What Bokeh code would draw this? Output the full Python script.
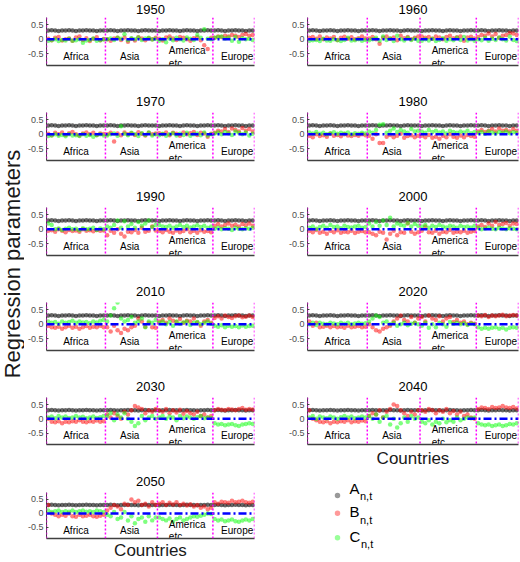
import numpy as np
from bokeh.plotting import figure
from bokeh.models import Span, FixedTicker
from bokeh.layouts import row, column
from bokeh.core.properties import value
from bokeh.embed import file_html
from bokeh.resources import INLINE

FONT = "Liberation Sans"

years = [1950, 1960, 1970, 1980, 1990, 2000, 2010, 2020, 2030, 2040, 2050]
region_names = ["Africa", "Asia", "America etc.", "Europe"]
region_sizes = [17, 15, 16, 12]
y_ticks = [-0.5, 0, 0.5]
series_labels = ["A", "B", "C"]

A_values = [0.30, 0.31, 0.30, 0.29, 0.30, 0.30, 0.31, 0.30, 0.29, 0.30, 0.30, 0.31, 0.30, 0.30, 0.29, 0.30, 0.30,
            0.30, 0.31, 0.30, 0.29, 0.30, 0.30, 0.31, 0.30, 0.30, 0.29, 0.30, 0.31, 0.30, 0.30, 0.30,
            0.29, 0.30, 0.30, 0.31, 0.30, 0.30, 0.29, 0.30, 0.31, 0.30, 0.30, 0.29, 0.30, 0.30, 0.31, 0.30,
            0.30, 0.31, 0.30, 0.29, 0.30, 0.30, 0.31, 0.30, 0.30, 0.29, 0.30, 0.30]

B_1950 = [0.02, -0.03, 0.05, 0.08, -0.04, 0.0, 0.03, -0.05, 0.06, 0.10, -0.02, 0.04, -0.06, 0.02, 0.07, -0.03, 0.01,
          0.0, -0.05, 0.03, 0.05, -0.02, 0.06, -0.08, 0.02, -0.04, 0.07, 0.03, -0.03, 0.04, 0.0, 0.05,
          0.02, -0.04, 0.06, 0.10, 0.03, -0.02, 0.08, 0.05, 0.0, -0.05, 0.04, 0.07, -0.03, -0.20, -0.33, 0.05,
          0.05, 0.10, 0.08, 0.12, 0.10, 0.15, 0.12, 0.08, 0.15, 0.18, 0.12, 0.15]
C_1950 = [-0.05, -0.03, 0.0, -0.06, -0.02, -0.04, 0.02, -0.05, -0.03, 0.0, -0.12, -0.04, -0.02, 0.03, -0.05, -0.03, -0.01,
          0.0, 0.03, -0.02, 0.05, 0.02, 0.17, -0.03, 0.04, 0.0, 0.06, -0.02, 0.03, 0.05, -0.01, 0.02,
          -0.05, 0.0, -0.10, 0.03, -0.03, 0.05, 0.0, -0.04, 0.06, 0.02, -0.02, 0.15, 0.05, 0.35, 0.02, 0.0,
          0.05, 0.08, 0.10, 0.03, 0.06, -0.05, 0.08, -0.08, 0.04, 0.0, 0.02, -0.02]

B_1960 = [0.05, 0.08, 0.02, 0.10, 0.0, 0.06, 0.03, 0.08, -0.02, 0.05, 0.09, 0.02, 0.07, 0.0, 0.04, 0.10, 0.03,
          0.03, 0.08, 0.0, -0.15, 0.05, 0.10, 0.02, 0.06, -0.03, 0.12, 0.04, 0.08, 0.0, 0.05, 0.10,
          0.10, 0.05, 0.08, 0.02, 0.10, 0.06, 0.0, 0.08, 0.12, 0.04, 0.07, 0.10, -0.05, 0.06, 0.09, 0.03,
          0.08, 0.15, 0.12, 0.20, 0.10, 0.18, 0.05, 0.12, 0.15, 0.22, 0.20, 0.15]
C_1960 = [-0.05, -0.03, -0.02, -0.06, 0.02, -0.04, -0.05, 0.0, -0.03, -0.06, -0.02, 0.05, -0.04, -0.03, 0.0, -0.05, -0.02,
          -0.03, 0.0, 0.05, -0.05, 0.10, -0.02, 0.03, -0.06, 0.12, 0.0, -0.04, 0.05, -0.02, 0.02, -0.05,
          -0.05, 0.0, -0.04, 0.02, -0.06, -0.02, 0.04, -0.05, 0.0, -0.03, 0.05, -0.02, 0.08, -0.04, 0.0, -0.05,
          0.0, -0.03, 0.05, -0.05, 0.02, -0.02, 0.06, 0.0, -0.04, 0.10, -0.02, -0.06]

B_1970 = [0.02, -0.03, 0.05, 0.0, 0.06, -0.02, 0.04, 0.08, 0.0, -0.04, 0.03, 0.06, 0.0, 0.05, -0.02, 0.03, 0.01,
          0.0, 0.05, -0.25, 0.03, -0.03, 0.06, 0.0, 0.04, -0.02, 0.07, 0.02, -0.04, 0.05, 0.0, 0.03,
          0.04, 0.0, 0.06, -0.03, 0.05, 0.02, -0.05, 0.06, 0.0, 0.04, 0.08, -0.02, 0.05, 0.03, -0.08, 0.02,
          0.05, 0.12, 0.10, 0.18, 0.08, 0.20, 0.15, 0.10, 0.22, 0.12, 0.18, 0.10]
C_1970 = [-0.06, -0.04, 0.0, -0.05, -0.02, -0.07, 0.0, -0.04, -0.03, -0.06, 0.0, -0.05, -0.02, -0.08, -0.03, 0.0, -0.04,
          -0.04, 0.0, 0.03, -0.05, 0.28, 0.02, -0.03, 0.05, 0.0, -0.06, 0.04, -0.02, 0.06, -0.04, 0.0,
          -0.03, 0.02, -0.05, 0.0, 0.04, -0.04, 0.02, -0.02, 0.05, -0.05, 0.0, 0.03, -0.03, 0.06, -0.04, 0.0,
          0.03, 0.06, 0.0, 0.08, 0.04, -0.02, 0.10, 0.05, 0.0, 0.06, -0.04, 0.02]

B_1980 = [-0.05, -0.10, 0.0, -0.06, -0.03, -0.08, 0.02, -0.05, -0.02, -0.07, 0.0, -0.04, -0.06, -0.02, -0.05, 0.0, -0.03,
          -0.05, -0.15, 0.0, -0.30, -0.30, -0.08, -0.02, -0.10, -0.05, 0.02, -0.12, -0.06, -0.03, -0.10, -0.05,
          -0.05, -0.10, -0.02, -0.12, -0.08, -0.15, -0.05, -0.10, 0.0, -0.08, -0.12, -0.04, -0.10, -0.02, -0.06, -0.08,
          0.10, 0.15, 0.08, 0.12, 0.18, 0.10, 0.20, 0.12, 0.15, 0.10, 0.18, 0.12]
C_1980 = [0.06, 0.03, 0.08, 0.02, 0.05, 0.0, 0.04, 0.07, 0.02, 0.05, 0.03, 0.06, 0.0, 0.04, 0.02, 0.05, 0.03,
          0.10, 0.05, 0.15, 0.33, 0.35, 0.05, 0.12, 0.20, 0.08, 0.15, 0.10, 0.05, 0.18, 0.10, 0.12,
          0.10, 0.05, 0.15, 0.08, 0.12, 0.06, 0.10, 0.03, 0.12, 0.08, 0.05, 0.10, 0.06, 0.12, 0.04, 0.08,
          0.05, 0.08, 0.02, 0.10, 0.06, 0.03, 0.08, 0.05, 0.10, 0.04, 0.07, 0.05]

B_1990 = [-0.05, -0.03, -0.08, 0.0, -0.05, -0.10, -0.02, -0.06, -0.04, -0.08, 0.0, -0.05, -0.03, -0.07, -0.02, -0.05, -0.04,
          -0.20, -0.05, -0.12, 0.0, -0.15, -0.25, -0.08, -0.10, -0.02, -0.12, 0.05, -0.08, -0.05, 0.10, -0.04,
          -0.05, -0.10, -0.02, -0.08, -0.12, -0.04, -0.10, -0.06, 0.0, -0.10, -0.05, -0.12, -0.03, -0.08, -0.06, -0.10,
          0.12, 0.18, 0.10, 0.15, 0.20, 0.12, 0.16, 0.10, 0.18, 0.14, 0.20, 0.12]
C_1990 = [0.20, 0.15, 0.0, 0.03, -0.02, 0.02, 0.05, 0.0, 0.02, -0.03, 0.04, 0.0, 0.02, 0.05, -0.02, 0.03, 0.0,
          0.10, 0.05, 0.15, 0.30, 0.05, 0.28, 0.10, 0.18, 0.05, 0.25, 0.12, 0.20, 0.30, 0.08, 0.15,
          0.15, 0.10, 0.08, 0.12, 0.05, 0.10, 0.15, 0.08, 0.12, 0.06, 0.10, 0.14, 0.08, 0.12, 0.05, 0.10,
          0.02, 0.05, 0.0, 0.04, 0.02, -0.02, 0.05, 0.02, 0.0, 0.04, 0.02, 0.05]

B_2000 = [-0.05, -0.10, -0.02, -0.12, -0.08, -0.15, -0.05, -0.10, -0.03, -0.12, -0.08, -0.10, -0.05, -0.13, -0.08, -0.06, -0.10,
          -0.10, -0.15, -0.20, -0.08, -0.12, -0.35, -0.15, -0.05, -0.20, -0.10, -0.12, 0.20, -0.08, -0.15, -0.10,
          -0.05, 0.10, -0.10, -0.12, -0.05, -0.15, -0.08, -0.10, -0.02, -0.12, -0.08, -0.10, -0.05, -0.12, -0.08, -0.06,
          0.10, 0.15, 0.08, 0.20, 0.12, 0.25, 0.15, 0.18, 0.22, 0.12, 0.20, 0.18]
C_2000 = [0.05, 0.10, 0.02, 0.08, 0.12, 0.05, 0.15, 0.08, 0.10, 0.04, 0.12, 0.08, 0.06, 0.10, 0.12, 0.05, 0.08,
          0.20, 0.10, 0.25, 0.12, 0.30, 0.15, 0.40, 0.10, 0.20, 0.15, 0.12, 0.22, 0.10, 0.18, 0.12,
          0.10, 0.15, 0.05, 0.12, 0.08, 0.15, 0.10, 0.06, 0.12, 0.10, 0.05, 0.12, 0.08, 0.10, 0.06, 0.12,
          0.05, 0.0, 0.03, 0.06, 0.02, 0.0, 0.05, 0.03, 0.0, 0.04, 0.02, 0.0]

B_2010 = [-0.05, -0.10, -0.12, -0.08, -0.15, -0.10, -0.05, -0.12, -0.08, -0.15, -0.10, -0.06, -0.12, -0.08, -0.10, -0.05, -0.10,
          -0.10, -0.25, -0.05, -0.20, -0.30, -0.15, -0.20, -0.10, -0.05, 0.20, 0.10, -0.08, 0.05, -0.10, -0.12,
          0.10, 0.15, 0.05, 0.20, 0.12, 0.08, 0.18, 0.05, 0.12, 0.10, 0.20, 0.06, -0.05, 0.10, 0.15, 0.05,
          0.22, 0.28, 0.20, 0.30, 0.25, 0.22, 0.28, 0.30, 0.24, 0.26, 0.30, 0.25]
C_2010 = [0.10, 0.05, 0.08, 0.02, 0.10, 0.05, 0.08, 0.12, 0.05, 0.10, 0.06, 0.08, 0.04, 0.10, 0.06, 0.12, 0.15,
          0.10, 0.30, 0.55, 0.75, 0.20, 0.10, 0.15, 0.25, 0.05, 0.10, 0.20, -0.10, 0.10, 0.05, 0.15,
          0.05, 0.10, 0.0, 0.08, -0.05, 0.10, 0.02, 0.06, 0.10, -0.02, 0.05, 0.08, 0.0, 0.05, 0.10, 0.02,
          -0.05, -0.08, -0.03, -0.10, -0.05, -0.08, -0.06, -0.10, -0.04, -0.08, -0.06, -0.05]

B_2020 = [0.10, -0.05, 0.05, -0.10, -0.08, -0.05, -0.10, -0.06, -0.10, -0.08, -0.12, -0.05, -0.10, -0.08, -0.06, -0.10, -0.08,
          0.0, -0.10, -0.20, -0.25, -0.15, -0.10, -0.05, 0.10, 0.20, 0.30, 0.15, 0.10, 0.25, 0.05, 0.20,
          0.25, 0.10, 0.30, 0.20, 0.15, 0.28, 0.10, 0.20, 0.25, 0.08, 0.15, 0.05, 0.10, 0.0, 0.05, 0.02,
          0.30, 0.28, 0.32, 0.25, 0.30, 0.28, 0.30, 0.33, 0.28, 0.30, 0.32, 0.30]
C_2020 = [0.0, 0.05, -0.02, 0.05, 0.02, 0.0, 0.05, 0.03, 0.0, 0.05, 0.02, 0.05, 0.0, 0.03, 0.05, 0.02, 0.04,
          0.10, 0.20, 0.30, 0.25, 0.05, 0.10, 0.0, 0.05, -0.05, 0.0, 0.05, -0.03, 0.02, 0.05, 0.0,
          -0.05, 0.05, -0.12, 0.0, -0.10, 0.05, 0.0, -0.08, 0.08, 0.02, 0.05, 0.0, 0.04, -0.02, 0.03, 0.0,
          -0.10, -0.15, -0.12, -0.15, -0.12, -0.10, -0.15, -0.12, -0.18, -0.12, -0.10, -0.12]

B_2030 = [0.0, -0.10, -0.12, -0.08, -0.15, -0.10, -0.12, -0.08, -0.10, -0.05, -0.10, -0.12, -0.08, -0.10, -0.06, -0.10, -0.08,
          0.15, 0.05, 0.20, 0.10, 0.0, 0.25, 0.15, 0.30, 0.45, 0.40, 0.35, 0.20, 0.30, 0.25, 0.35,
          0.30, 0.25, 0.35, 0.20, 0.30, 0.22, 0.32, 0.18, 0.28, 0.20, 0.15, 0.25, 0.10, 0.15, 0.05, 0.10,
          0.30, 0.35, 0.32, 0.30, 0.35, 0.33, 0.30, 0.35, 0.38, 0.32, 0.35, 0.33]
C_2030 = [0.05, 0.08, 0.02, 0.10, 0.05, 0.08, 0.03, 0.05, 0.10, 0.05, 0.07, 0.02, 0.05, 0.08, 0.03, 0.06, 0.10,
          0.10, 0.20, -0.05, 0.15, 0.05, 0.20, 0.0, -0.10, -0.25, -0.15, 0.10, -0.05, 0.05, 0.10, 0.0,
          0.05, 0.10, 0.0, 0.08, 0.05, -0.05, 0.10, 0.02, 0.08, 0.05, 0.0, 0.06, 0.10, 0.02, 0.05, 0.03,
          -0.15, -0.20, -0.18, -0.22, -0.20, -0.18, -0.22, -0.25, -0.20, -0.18, -0.15, -0.18]

B_2040 = [0.30, 0.0, -0.05, -0.10, -0.12, -0.08, -0.15, -0.10, -0.12, -0.08, -0.10, -0.05, -0.12, -0.08, -0.10, -0.06, -0.08,
          0.10, 0.20, 0.15, 0.30, 0.05, 0.25, 0.35, 0.50, 0.45, 0.30, 0.20, 0.10, 0.25, 0.15, 0.30,
          0.30, 0.25, 0.35, 0.30, 0.20, 0.30, 0.25, 0.35, 0.20, 0.28, 0.15, 0.25, 0.10, 0.15, 0.05, 0.0,
          0.35, 0.40, 0.38, 0.35, 0.42, 0.38, 0.40, 0.45, 0.40, 0.38, 0.42, 0.36]
C_2040 = [0.05, 0.10, 0.0, 0.08, 0.05, 0.02, 0.08, 0.05, 0.0, 0.06, 0.10, 0.05, 0.08, 0.02, 0.05, 0.08, 0.05,
          0.10, 0.0, 0.15, -0.10, 0.05, 0.10, -0.20, 0.0, -0.30, -0.15, 0.05, -0.10, 0.10, 0.0, 0.05,
          -0.10, -0.15, -0.05, -0.20, -0.10, -0.15, 0.0, -0.12, -0.05, -0.10, 0.05, -0.05, 0.0, 0.05, 0.02, 0.05,
          -0.15, -0.20, -0.22, -0.20, -0.25, -0.22, -0.20, -0.25, -0.22, -0.18, -0.20, -0.15]

B_2050 = [0.30, 0.0, -0.05, -0.10, -0.05, -0.08, 0.0, -0.10, -0.12, -0.05, -0.10, -0.08, -0.05, -0.10, -0.12, -0.08, -0.05,
          0.10, 0.20, 0.30, 0.25, 0.15, 0.35, 0.30, 0.50, 0.40, 0.45, 0.30, 0.35, 0.25, 0.40, 0.30,
          0.35, 0.40, 0.30, 0.38, 0.32, 0.40, 0.30, 0.35, 0.28, 0.33, 0.25, 0.30, 0.20, 0.25, 0.15, 0.20,
          0.40, 0.35, 0.42, 0.40, 0.38, 0.45, 0.40, 0.42, 0.45, 0.40, 0.38, 0.42]
C_2050 = [0.10, 0.05, 0.08, 0.10, 0.05, 0.08, 0.06, 0.10, 0.05, 0.08, 0.10, 0.06, 0.08, 0.05, 0.10, 0.08, 0.05,
          -0.05, -0.10, 0.05, -0.20, -0.15, 0.05, -0.25, -0.10, -0.35, -0.20, -0.15, -0.30, -0.10, -0.25, -0.15,
          -0.15, -0.20, -0.25, -0.18, -0.30, -0.20, -0.15, -0.25, -0.20, -0.15, -0.10, -0.12, -0.08, -0.05, 0.0, -0.02,
          -0.20, -0.25, -0.22, -0.28, -0.25, -0.22, -0.28, -0.30, -0.25, -0.22, -0.25, -0.20]

B_data = {1950: B_1950, 1960: B_1960, 1970: B_1970, 1980: B_1980, 1990: B_1990, 2000: B_2000,
          2010: B_2010, 2020: B_2020, 2030: B_2030, 2040: B_2040, 2050: B_2050}
C_data = {1950: C_1950, 1960: C_1960, 1970: C_1970, 1980: C_1980, 1990: C_1990, 2000: C_2000,
          2010: C_2010, 2020: C_2020, 2030: C_2030, 2040: C_2040, 2050: C_2050}

N = sum(region_sizes)
xs = np.arange(N) + 0.5
bounds = np.cumsum([0] + region_sizes)

FRAME_H = 48
row_heights = [90, 95, 95, 95, 95, 92]
row_tops = [17, 22, 22, 22, 22, 22]
YLAB_W = 24


def bare(width, height, xr, yr):
    f = figure(width=width, height=height, x_range=xr, y_range=yr, output_backend="svg",
               toolbar_location=None, x_axis_location=None, y_axis_location=None,
               min_border_left=0, min_border_right=0, min_border_top=0, min_border_bottom=0)
    f.outline_line_color = None
    f.xgrid.visible = False
    f.ygrid.visible = False
    f.frame_align = False
    return f


def make_panel(year, r, col, xlabel=None, xlabel_standoff=4):
    left = col == 0
    h = row_heights[r]
    top = row_tops[r]
    bottom = h - top - FRAME_H
    p = figure(width=(260 - YLAB_W) if left else 260, height=h, x_range=(0, N), y_range=(-0.9, 0.75),
               output_backend="svg", toolbar_location=None,
               min_border_left=(43 - YLAB_W) if left else 47, min_border_right=6 if left else 2,
               min_border_top=top, min_border_bottom=bottom)
    p.outline_line_color = None
    p.xgrid.visible = False
    p.ygrid.visible = False

    p.title.text = str(year)
    p.title.align = "center"
    p.title.vertical_align = "middle"
    p.title.text_font = FONT
    p.title.text_font_size = "13px"
    p.title.text_font_style = "normal"
    p.title.text_color = "black"
    p.title.standoff = 6 if r == 0 else 11
    p.title.offset = 0

    p.yaxis.ticker = FixedTicker(ticks=y_ticks)
    p.yaxis.major_label_overrides = {t: ("0" if t == 0 else str(t)) for t in y_ticks}
    p.yaxis.major_label_text_font = FONT
    p.yaxis.major_label_text_font_size = "9px"
    p.yaxis.major_label_text_color = "#4d4d4d"
    p.yaxis.major_label_standoff = 3
    p.yaxis.major_tick_in = 2
    p.yaxis.major_tick_out = 0
    p.yaxis.minor_tick_line_color = None
    p.yaxis.major_tick_line_color = "#404040"
    p.yaxis.axis_line_color = "#404040"

    p.xaxis.ticker = FixedTicker(ticks=[])
    p.xaxis.major_tick_out = 0
    p.xaxis.major_tick_in = 0
    p.xaxis.minor_tick_line_color = None
    p.xaxis.major_label_standoff = 0
    p.xaxis.axis_line_color = "#404040"
    p.xaxis.axis_line_width = 1.5
    if xlabel:
        p.xaxis.axis_label = xlabel
        p.xaxis.axis_label_text_font = FONT
        p.xaxis.axis_label_text_font_style = "normal"
        p.xaxis.axis_label_text_font_size = "17px"
        p.xaxis.axis_label_text_color = "#1a1a1a"
        p.xaxis.axis_label_standoff = xlabel_standoff

    p.scatter(xs, A_values, size=4.5, fill_color="black", fill_alpha=0.6, line_color=None)
    p.scatter(xs, B_data[year], size=4.5, fill_color="red", fill_alpha=0.5, line_color=None)
    p.scatter(xs, C_data[year], size=4.5, fill_color="lime", fill_alpha=0.5, line_color=None)

    p.add_layout(Span(location=0, dimension="width", line_color="blue", line_width=2.5, line_dash="8 3 2 3"))
    for b in bounds:
        p.add_layout(Span(location=float(b), dimension="height", line_color="#ff00ff", line_width=1.5, line_dash="2 2"))

    cx = [(bounds[i] + bounds[i + 1]) / 2 for i in range(4)]
    tf = value(FONT)
    p.text([cx[0], cx[1] - 0.5, cx[3] + 1.0], [-0.6, -0.6, -0.6],
           text=[region_names[0], region_names[1], region_names[3]],
           text_font=tf, text_font_size="10px", text_align="center", text_baseline="middle", text_color="black")
    am, etc = region_names[2].split(" ")
    p.text([bounds[2] + 3.3, bounds[2] + 3.3], [-0.39, -0.83], text=[am, etc],
           text_font=tf, text_font_size="10px", text_align="left", text_baseline="middle", text_color="black")
    return p


figs = {}
for i, yr in enumerate(years):
    r, c = divmod(i, 2)
    xl = "Countries" if yr in (2040, 2050) else None
    so = 4 if yr == 2040 else 2
    figs[(r, c)] = make_panel(yr, r, c, xl, so)

# y label strip
ylab = bare(YLAB_W, 562, (0, YLAB_W), (0, 562))
ylab.text([11.5], [298.5], text=["Regression parameters"], angle=np.pi / 2, text_font=value(FONT),
          text_font_size="22px", text_align="center", text_baseline="middle", text_color="#1a1a1a")

# legend cell (page rows 470..562, y measured upward from the page bottom)
leg = bare(260, 92, (0, 260), (0, 92))
dot_y = [562 - 495, 562 - 512.7, 562 - 537.3]
let_y = [562 - 488, 562 - 511, 562 - 535.5]
sub_y = [562 - 495.5, 562 - 519, 562 - 543.7]
leg.scatter([77, 77, 77], dot_y, size=5.5, fill_color=["black", "red", "lime"], fill_alpha=0.4, line_color=None)
leg.text([89, 89, 89], let_y, text=series_labels, text_font=value(FONT), text_font_size="15px",
         text_align="left", text_baseline="middle", text_color="black")
leg.text([99.5, 99.5, 100.5], sub_y, text=["n,t"] * 3, text_font=value(FONT), text_font_size="11px",
         text_align="left", text_baseline="middle", text_color="black")
figs[(5, 1)] = leg

rows = [row(figs[(r, 0)], figs[(r, 1)], spacing=0) for r in range(6)]
layout = row(ylab, column(*rows, spacing=0), spacing=0)

open("out.html", "w").write(file_html(layout, INLINE))
